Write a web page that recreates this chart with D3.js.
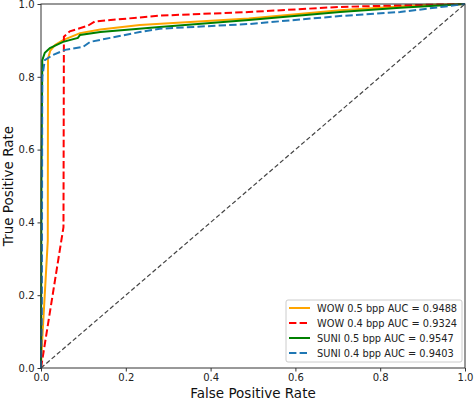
<!DOCTYPE html>
<html><head><meta charset="utf-8">
<script src="https://cdn.jsdelivr.net/npm/d3@7"></script>
<style>body{margin:0;background:#fff}svg{display:block}text{font-family:"DejaVu Sans",sans-serif}</style>
</head><body><svg id="c" width="474" height="399"></svg>
<script>
const seriesNames = ["WOW 0.5 bpp AUC = 0.9488","WOW 0.4 bpp AUC = 0.9324","SUNI 0.5 bpp AUC = 0.9547","SUNI 0.4 bpp AUC = 0.9403"];
const xTicks = [0,0.2,0.4,0.6,0.8,1.0];
const yTicks = [0,0.2,0.4,0.6,0.8,1.0];
const wow05 = [[0,0],[0.003,0.08],[0.016,0.35],[0.0165,0.85],[0.022,0.872],[0.033,0.887],[0.052,0.901],[0.092,0.92],[0.14,0.93],[0.233,0.942],[0.49,0.96],[0.705,0.983],[0.9,0.997],[1,1]];
const wow04 = [[0,0],[0.053,0.387],[0.054,0.91],[0.068,0.925],[0.11,0.94],[0.127,0.952],[0.28,0.968],[0.49,0.978],[0.705,0.992],[0.88,0.997],[1,1]];
const suni05 = [[0,0],[0.001,0.5],[0.003,0.846],[0.009,0.866],[0.021,0.879],[0.052,0.896],[0.087,0.907],[0.092,0.915],[0.14,0.923],[0.28,0.937],[0.49,0.956],[0.705,0.978],[0.847,0.99],[1,1]];
const suni04 = [[0,0],[0.002,0.15],[0.003,0.8],[0.009,0.846],[0.028,0.86],[0.057,0.874],[0.099,0.882],[0.116,0.896],[0.233,0.923],[0.28,0.932],[0.49,0.945],[0.705,0.967],[0.847,0.978],[1,1]];
const colors = ["#ffa500","#ff0000","#008000","#1f77b4"];
const dashed = [false,true,false,true];
const allSeries = [wow05,wow04,suni05,suni04];

const svg = d3.select("#c");
const x = d3.scaleLinear().domain([0,1]).range([41,465]);
const y = d3.scaleLinear().domain([0,1]).range([368,4]);

// diagonal
svg.append("line").attr("x1",x(0)).attr("y1",y(0)).attr("x2",x(1)).attr("y2",y(1))
  .attr("stroke","#444").attr("stroke-width",1.2).attr("stroke-dasharray","4.5,2.5");

const line = d3.line().x(d=>x(d[0])).y(d=>y(d[1]));
allSeries.forEach((s,i)=>{
  svg.append("path").datum(s).attr("d",line).attr("fill","none")
    .attr("stroke",colors[i]).attr("stroke-width",2)
    .attr("stroke-dasharray",dashed[i]?"7.4,3.2":null);
});

// frame
svg.append("rect").attr("x",x(0)).attr("y",y(1)).attr("width",x(1)-x(0)).attr("height",y(0)-y(1))
  .attr("fill","none").attr("stroke","#333").attr("stroke-width",1);

const fmt = d3.format(".1f");
const xa = svg.append("g").attr("transform",`translate(0,${y(0)})`)
  .call(d3.axisBottom(x).tickValues(xTicks).tickFormat(fmt).tickSize(3.5).tickPadding(2.5));
const ya = svg.append("g").attr("transform",`translate(${x(0)},0)`)
  .call(d3.axisLeft(y).tickValues(yTicks).tickFormat(fmt).tickSize(3.5).tickPadding(3));
[xa,ya].forEach(g=>{
  g.select(".domain").remove();
  g.selectAll("line").attr("stroke","#333");
  g.selectAll("text").attr("font-size",10).attr("fill","#222").attr("font-family","DejaVu Sans");
});

svg.append("text").attr("x",(x(0)+x(1))/2).attr("y",397.5).attr("text-anchor","middle")
  .attr("font-size",13.5).attr("fill","#111").text("False Positive Rate");
svg.append("text").attr("transform",`translate(13,${(y(0)+y(1))/2}) rotate(-90)`).attr("text-anchor","middle")
  .attr("font-size",13.5).attr("fill","#111").text("True Positive Rate");

// legend
const lg = svg.append("g");
lg.append("rect").attr("x",286).attr("y",300).attr("width",176).attr("height",62).attr("rx",2)
  .attr("fill","#fff").attr("fill-opacity",0.8).attr("stroke","#ccc").attr("stroke-width",1);
seriesNames.forEach((n,i)=>{
  const yy = 308 + i*15;
  lg.append("line").attr("x1",289).attr("x2",310).attr("y1",yy).attr("y2",yy)
    .attr("stroke",colors[i]).attr("stroke-width",2).attr("stroke-dasharray",dashed[i]?"7.4,3.2":null);
  lg.append("text").attr("x",317).attr("y",yy+3.5).attr("font-size",9.8).attr("fill","#222").text(n);
});
</script></body></html>
